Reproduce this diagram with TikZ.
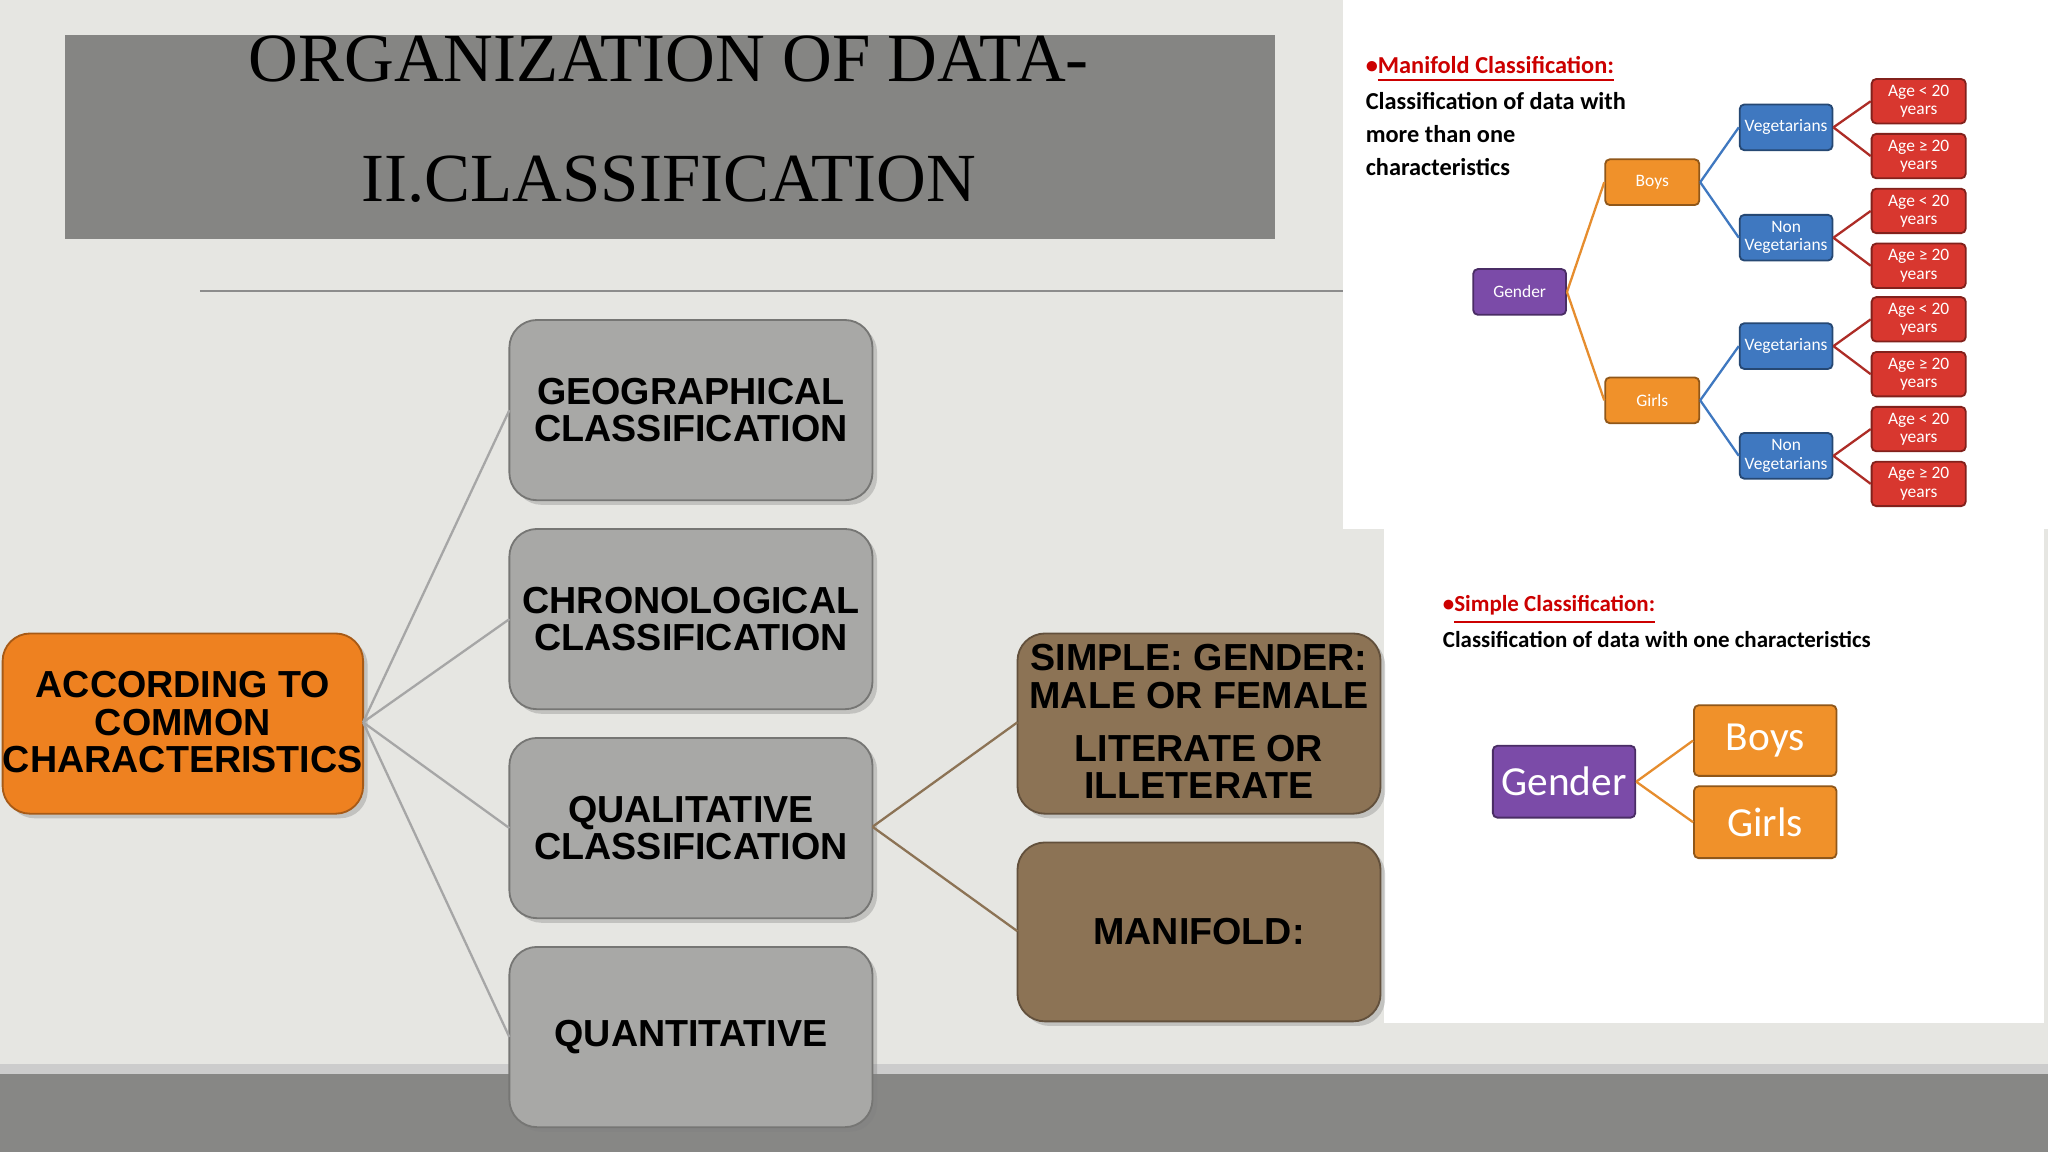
\documentclass[tikz,border=0pt]{standalone}
\usepackage{fontspec}
\setmainfont{Liberation Serif}
\setsansfont{Liberation Sans}
\newfontfamily\carl{Carlito}
\usetikzlibrary{shadows}
\definecolor{bg}{HTML}{E6E6E2}
\definecolor{titlegray}{HTML}{858583}
\definecolor{band}{HTML}{878785}
\definecolor{boxgray}{HTML}{A8A8A6}
\definecolor{brownb}{HTML}{8C7355}
\definecolor{orng}{HTML}{EE8120}
\definecolor{purp}{HTML}{7B4BA8}
\definecolor{blu}{HTML}{3F78C0}
\definecolor{rd}{HTML}{D8372F}
\definecolor{or2}{HTML}{F0912A}
\tikzset{
 bigbox/.style={rounded corners=6pt,draw=#1!70!black,line width=0.4pt,drop shadow={opacity=0.35,shadow xshift=1pt,shadow yshift=-1pt}},
 tb/.style={rounded corners=1pt,draw=#1!60!black,fill=#1,text=white,font=\carl\fontsize{3.8}{4}\selectfont,align=center,inner sep=0pt},
 conn/.style={draw=#1,line width=0.5pt},
 bt/.style={font=\sffamily\bfseries\fontsize{8.2}{8.2}\selectfont,align=center,text=black},
}
\begin{document}
\begin{tikzpicture}[x=0.01cm,y=-0.01cm]
\fill[bg] (0,0) rectangle (1568,882);
\useasboundingbox (0,0) rectangle (1568,882);
\fill[black!20] (0,815) rectangle (1568,822);
\fill[band] (0,822) rectangle (1568,882);
\fill[titlegray] (50,27) rectangle (976,183);
\node (t1) at (512,45) {\fontsize{15}{15}\selectfont ORGANIZATION OF DATA-};
\node (t2) at (512,137) {\fontsize{15}{15}\selectfont II.CLASSIFICATION};
\draw[black!45,line width=0.4pt] (153,223) -- (1028,223);
% white panels
\fill[white] (1028,0) rectangle (1568,405);
\fill[white] (1060,405) rectangle (1565,783);
% main boxes
\path[bigbox=orng,fill=orng] (2,485) rectangle (278,623);
\node[bt] (acc) at (140,553) {ACCORDING TO\\COMMON\\CHARACTERISTICS};
\foreach \n/\y/\t in {g/245/{GEOGRAPHICAL\\CLASSIFICATION},c/405/{CHRONOLOGICAL\\CLASSIFICATION},q/565/{QUALITATIVE\\CLASSIFICATION},n/725/{QUANTITATIVE}}{
 \path[bigbox=boxgray,fill=boxgray] (390,\y) rectangle (668,\y+138);
 \node[bt] (\n) at (529,\y+69) {\t};
 \coordinate (\n L) at (390,\y+69);
}
\coordinate (accR) at (278,553);
\coordinate (qR) at (668,633);
\foreach \n in {g,c,q,n} \draw[conn=black!35] (accR) -- (\n L);
\path[bigbox=brownb,fill=brownb] (779,485) rectangle (1057,623);
\path[bigbox=brownb,fill=brownb] (779,645) rectangle (1057,782);
\node[bt] (s) at (918,518) {SIMPLE: GENDER:\\MALE OR FEMALE};
\node[bt] (s2) at (918,587) {LITERATE OR\\ILLETERATE};
\node[bt] (m) at (918,713) {MANIFOLD:};
\coordinate (sL) at (779,553);
\coordinate (mL) at (779,713);
\draw[conn=brownb] (qR) -- (sL);
\draw[conn=brownb] (qR) -- (mL);
% manifold text
\node[anchor=west,inner sep=0pt,text=red!80!black,font=\carl\bfseries\fontsize{5.3}{6}\selectfont] (mh) at (1045,53) {\textbullet\underline{Manifold Classification:}};
\node[anchor=north west,inner sep=0pt,align=left,font=\carl\bfseries\fontsize{5.3}{7.2}\selectfont] (mt) at (1045,70) {Classification of data with\\more than one\\characteristics};
% tree
\node[tb=purp,minimum width=0.71cm,minimum height=0.35cm] (gen) at (1163.5,223.5) {Gender};
\node[tb=or2,minimum width=0.72cm,minimum height=0.35cm] (boys) at (1265,139.5) {Boys};
\node[tb=or2,minimum width=0.72cm,minimum height=0.35cm] (girls) at (1265,306.5) {Girls};
\foreach \i/\y/\t in {1/97.5/Vegetarians,2/182/{Non\\Vegetarians},3/265/Vegetarians,4/349/{Non\\Vegetarians}}
 \node[tb=blu,minimum width=0.71cm,minimum height=0.35cm] (v\i) at (1367.5,\y) {\t};
\foreach \i/\y/\t in {1/77.5/{Age < 20\\years},2/119.5/{Age ≥ 20\\years},3/161.5/{Age < 20\\years},4/203.5/{Age ≥ 20\\years},5/244.5/{Age < 20\\years},6/286.5/{Age ≥ 20\\years},7/328.5/{Age < 20\\years},8/370.5/{Age ≥ 20\\years}}
 \node[tb=rd,minimum width=0.72cm,minimum height=0.34cm] (a\i) at (1469,\y) {\t};
\draw[conn=or2!80!brown] (gen.east) -- (boys.west);
\draw[conn=or2!80!brown] (gen.east) -- (girls.west);
\draw[conn=blu] (boys.east) -- (v1.west); \draw[conn=blu] (boys.east) -- (v2.west);
\draw[conn=blu] (girls.east) -- (v3.west); \draw[conn=blu] (girls.east) -- (v4.west);
\foreach \v/\a/\b in {1/1/2,2/3/4,3/5/6,4/7/8}{
 \draw[conn=rd!80!black] (v\v.east) -- (a\a.west);
 \draw[conn=rd!80!black] (v\v.east) -- (a\b.west);}
% simple
\node[anchor=west,inner sep=0pt,text=red!80!black,font=\carl\bfseries\fontsize{5}{6}\selectfont] (sh) at (1104,467) {\textbullet\underline{Simple Classification:}};
\node[anchor=west,inner sep=0pt,font=\carl\bfseries\fontsize{5}{6}\selectfont] (st) at (1104,490) {Classification of data with one characteristics};
\node[tb=purp,minimum width=1.09cm,minimum height=0.55cm,font=\carl\fontsize{9}{9}\selectfont] (sg) at (1197.5,598.5) {Gender};
\node[tb=or2,minimum width=1.09cm,minimum height=0.54cm,font=\carl\fontsize{9}{9}\selectfont] (sb) at (1351.5,567) {Boys};
\node[tb=or2,minimum width=1.09cm,minimum height=0.55cm,font=\carl\fontsize{9}{9}\selectfont] (sgl) at (1351.5,629.5) {Girls};
\draw[conn=or2!80!brown] (sg.east) -- (sb.west);
\draw[conn=or2!80!brown] (sg.east) -- (sgl.west);
\end{tikzpicture}
\end{document}
